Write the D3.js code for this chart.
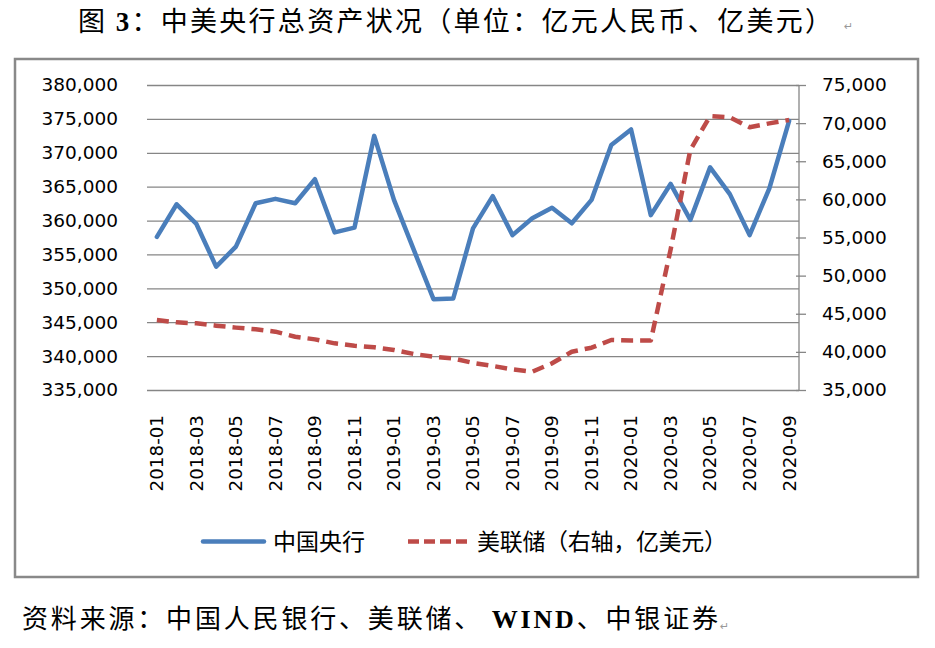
<!DOCTYPE html>
<html><head><meta charset="utf-8">
<script src="https://cdn.jsdelivr.net/npm/d3@7/dist/d3.min.js"></script>
<style>body{margin:0;background:#fff}svg{display:block}</style>
</head><body>
<script>
const months = ["2018-01","2018-02","2018-03","2018-04","2018-05","2018-06","2018-07","2018-08","2018-09","2018-10","2018-11","2018-12",
"2019-01","2019-02","2019-03","2019-04","2019-05","2019-06","2019-07","2019-08","2019-09","2019-10","2019-11","2019-12",
"2020-01","2020-02","2020-03","2020-04","2020-05","2020-06","2020-07","2020-08","2020-09"];
const pboc = [357600,362400,359500,353200,356150,362550,363200,362550,366100,358250,358950,372500,
363050,355700,348400,348500,358850,363600,357850,360350,361900,359600,363050,371150,
373450,360800,365400,360100,367850,363900,357850,364750,374700];
const fed = [44180,43870,43740,43440,43180,42960,42650,41990,41640,41120,40810,40600,
40250,39720,39370,39150,38550,38150,37710,37400,38500,40020,40550,41560,
41480,41480,53400,66480,70930,70760,69450,69970,70410];
const leftTicks = [335000,340000,345000,350000,355000,360000,365000,370000,375000,380000];
const rightTicks = [35000,40000,45000,50000,55000,60000,65000,70000,75000];
const xLabels = months.filter((d,i)=>i%2===0);
const seriesNames = ["中国央行","美联储（右轴，亿美元）"];
const titleParts = ["图 ","3","：中美央行总资产状况（单位：亿元人民币、亿美元）"];
const sourceParts = ["资料来源：中国人民银行、美联储、 ","WIND","、中银证券"];

const W=935,H=648;
const svg=d3.select("body").append("svg").attr("width",W).attr("height",H);
const cjk='"Noto Sans CJK SC", sans-serif';
const num='"DejaVu Sans", Verdana, sans-serif';
const serif='"Liberation Serif", "Times New Roman", serif';

// Title
const t=svg.append("text").attr("x",78).attr("y",31).attr("font-family",cjk).attr("font-size",27)
  .attr("fill","#000").attr("textLength",754).attr("lengthAdjust","spacing");
t.append("tspan").text(titleParts[0]);
t.append("tspan").attr("font-family",serif).attr("font-weight","bold").text(titleParts[1]);
t.append("tspan").text(titleParts[2]);
svg.append("text").attr("x",844).attr("y",30).attr("font-size",11).attr("fill","#999").attr("font-family",num).text("↵");

// Border
svg.append("rect").attr("x",15).attr("y",59).attr("width",903).attr("height",518)
  .attr("fill","none").attr("stroke","#898989").attr("stroke-width",2.5);

const x=d3.scalePoint().domain(months).range([147,799]).padding(0.5);
const yL=d3.scaleLinear().domain([335000,380000]).range([390,85]);
const yR=d3.scaleLinear().domain([35000,75000]).range([390,85]);
const fmt=d3.format(",");

// Gridlines (left axis)
const gL=svg.append("g").attr("transform","translate(147,0)")
  .call(d3.axisLeft(yL).tickValues(leftTicks).tickFormat(fmt).tickSize(-652).tickPadding(29));
gL.select(".domain").remove();
gL.selectAll(".tick line").attr("stroke","#868686").attr("stroke-width",1.3);
gL.selectAll(".tick text").attr("font-family",num).attr("font-size",18.5).attr("fill","#000");

// Right axis
const gR=svg.append("g").attr("transform","translate(799,0)")
  .call(d3.axisRight(yR).tickValues(rightTicks).tickFormat(fmt).tickSize(7).tickPadding(16));
gR.select(".domain").attr("stroke","#868686").attr("stroke-width",1.3).attr("d","M0,85V390");
gR.selectAll(".tick line").attr("stroke","#868686").attr("stroke-width",1.3).attr("x1",-3);
gR.selectAll(".tick text").attr("font-family",num).attr("font-size",18.5).attr("fill","#000");

// X labels
svg.append("g").selectAll("text").data(xLabels).join("text")
  .attr("transform",d=>`translate(${x(d)},415) rotate(-90)`)
  .attr("dy","0.35em").attr("text-anchor","end")
  .attr("font-family",num).attr("font-size",18.3).attr("fill","#000").text(d=>d);

// Lines
const lineL=d3.line().x((d,i)=>x(months[i])).y(d=>yL(d));
const lineR=d3.line().x((d,i)=>x(months[i])).y(d=>yR(d));
svg.append("path").attr("d",lineL(pboc)).attr("fill","none").attr("stroke","#4A7EBB")
  .attr("stroke-width",4.5).attr("stroke-linejoin","round").attr("stroke-linecap","round");
svg.append("path").attr("d",lineR(fed)).attr("fill","none").attr("stroke","#BE4B48")
  .attr("stroke-width",4.5).attr("stroke-dasharray","12,7").attr("stroke-linejoin","round");

// Legend
const lg=svg.append("g");
lg.append("line").attr("x1",203).attr("x2",264).attr("y1",541.5).attr("y2",541.5)
  .attr("stroke","#4A7EBB").attr("stroke-width",4.5).attr("stroke-linecap","round");
lg.append("text").attr("x",273).attr("y",549.5).attr("font-family",cjk).attr("font-size",23).attr("fill","#000")
  .attr("textLength",92).attr("lengthAdjust","spacing").text(seriesNames[0]);
lg.append("line").attr("x1",408).attr("x2",467).attr("y1",541.5).attr("y2",541.5)
  .attr("stroke","#BE4B48").attr("stroke-width",4.5).attr("stroke-dasharray","11,5");
lg.append("text").attr("x",477).attr("y",549.5).attr("font-family",cjk).attr("font-size",23).attr("fill","#000")
  .attr("textLength",250).attr("lengthAdjust","spacing").text(seriesNames[1]);

// Source
const s=svg.append("text").attr("x",22).attr("y",628).attr("font-family",cjk).attr("font-size",26)
  .attr("fill","#000").attr("textLength",696).attr("lengthAdjust","spacing");
s.append("tspan").text(sourceParts[0]);
s.append("tspan").attr("font-family",serif).attr("font-weight","bold").text(sourceParts[1]);
s.append("tspan").text(sourceParts[2]);
svg.append("text").attr("x",720).attr("y",630).attr("font-size",11).attr("fill","#999").attr("font-family",num).text("↵");
</script>
</body></html>
